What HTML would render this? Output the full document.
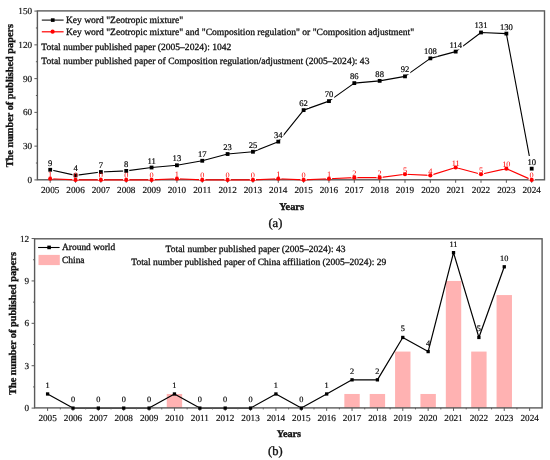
<!DOCTYPE html>
<html><head><meta charset="utf-8"><title>Figure</title>
<style>html,body{margin:0;padding:0;background:#fff;}body{width:550px;height:460px;overflow:hidden;}svg{display:block;}text{stroke:#111;stroke-width:.3px}text[fill="#ff0000"]{stroke:none}text.d{stroke-width:.2px}text.h{stroke-width:.35px}text.t{stroke-width:.18px}</style>
</head><body>
<svg width="550" height="460" viewBox="0 0 550 460" font-family="'Liberation Serif', 'Times New Roman', serif" fill="#111" text-rendering="geometricPrecision">
<rect width="550" height="460" fill="#fff"/>
<rect x="37.4" y="10.9" width="507.1" height="168.9" fill="none" stroke="#5a5a5a" stroke-width="1.4"/>
<path d="M50.2 179.8V182.8M75.54 179.8V182.8M100.88 179.8V182.8M126.23 179.8V182.8M151.57 179.8V182.8M176.91 179.8V182.8M202.25 179.8V182.8M227.59 179.8V182.8M252.94 179.8V182.8M278.28 179.8V182.8M303.62 179.8V182.8M328.96 179.8V182.8M354.3 179.8V182.8M379.65 179.8V182.8M404.99 179.8V182.8M430.33 179.8V182.8M455.67 179.8V182.8M481.01 179.8V182.8M506.36 179.8V182.8M531.7 179.8V182.8M37.4 179.9H34.4M37.4 163.02H35.9M37.4 146.14H34.4M37.4 129.26H35.9M37.4 112.38H34.4M37.4 95.5H35.9M37.4 78.61H34.4M37.4 61.73H35.9M37.4 44.85H34.4M37.4 27.97H35.9M37.4 11.09H34.4" stroke="#5a5a5a" stroke-width="1" fill="none"/>
<path d="M50.2 178.77 L75.54 179.9 L100.88 179.9 L126.23 179.9 L151.57 179.9 L176.91 178.77 L202.25 179.9 L227.59 179.9 L252.94 179.9 L278.28 178.77 L303.62 179.9 L328.96 178.77 L354.3 177.65 L379.65 177.65 L404.99 174.27 L430.33 175.4 L455.67 167.52 L481.01 174.27 L506.36 168.65 L531.7 179.9" stroke="#ff0000" stroke-width="1.2" fill="none" stroke-linejoin="round"/>
<path d="M50.2 169.77 L75.54 175.4 L100.88 172.02 L126.23 170.9 L151.57 167.52 L176.91 165.27 L202.25 160.77 L227.59 154.02 L252.94 151.77 L278.28 141.64 L303.62 110.13 L328.96 101.12 L354.3 83.12 L379.65 80.86 L404.99 76.36 L430.33 58.36 L455.67 51.6 L481.01 32.47 L506.36 33.6 L529.48 156.8" stroke="#000" stroke-width="1.1" fill="none" stroke-linejoin="round"/>
<rect x="47.12" y="168.79" width="6.15" height="10.21" fill="#fff"/>
<rect x="72.47" y="169.91" width="6.15" height="10.21" fill="#fff"/>
<rect x="97.81" y="169.91" width="6.15" height="10.21" fill="#fff"/>
<rect x="123.15" y="169.91" width="6.15" height="10.21" fill="#fff"/>
<rect x="148.49" y="169.91" width="6.15" height="10.21" fill="#fff"/>
<rect x="173.84" y="168.79" width="6.15" height="10.21" fill="#fff"/>
<rect x="199.18" y="169.91" width="6.15" height="10.21" fill="#fff"/>
<rect x="224.52" y="169.91" width="6.15" height="10.21" fill="#fff"/>
<rect x="249.86" y="169.91" width="6.15" height="10.21" fill="#fff"/>
<rect x="275.2" y="168.79" width="6.15" height="10.21" fill="#fff"/>
<rect x="300.55" y="169.91" width="6.15" height="10.21" fill="#fff"/>
<rect x="325.89" y="168.79" width="6.15" height="10.21" fill="#fff"/>
<rect x="351.23" y="167.66" width="6.15" height="10.21" fill="#fff"/>
<rect x="376.57" y="167.66" width="6.15" height="10.21" fill="#fff"/>
<rect x="401.91" y="164.29" width="6.15" height="10.21" fill="#fff"/>
<rect x="427.25" y="165.41" width="6.15" height="10.21" fill="#fff"/>
<rect x="450.52" y="157.53" width="10.3" height="10.21" fill="#fff"/>
<rect x="477.94" y="164.29" width="6.15" height="10.21" fill="#fff"/>
<rect x="501.21" y="158.66" width="10.3" height="10.21" fill="#fff"/>
<rect x="528.62" y="169.91" width="6.15" height="10.21" fill="#fff"/>
<rect x="47.05" y="157.12" width="6.3" height="10.55" fill="#fff"/>
<rect x="72.39" y="162.74" width="6.3" height="10.55" fill="#fff"/>
<rect x="97.73" y="159.37" width="6.3" height="10.55" fill="#fff"/>
<rect x="123.08" y="158.24" width="6.3" height="10.55" fill="#fff"/>
<rect x="146.27" y="154.87" width="10.6" height="10.55" fill="#fff"/>
<rect x="171.61" y="152.62" width="10.6" height="10.55" fill="#fff"/>
<rect x="196.95" y="148.11" width="10.6" height="10.55" fill="#fff"/>
<rect x="222.29" y="141.36" width="10.6" height="10.55" fill="#fff"/>
<rect x="247.64" y="139.11" width="10.6" height="10.55" fill="#fff"/>
<rect x="272.98" y="128.98" width="10.6" height="10.55" fill="#fff"/>
<rect x="298.32" y="97.47" width="10.6" height="10.55" fill="#fff"/>
<rect x="323.66" y="88.47" width="10.6" height="10.55" fill="#fff"/>
<rect x="349" y="70.46" width="10.6" height="10.55" fill="#fff"/>
<rect x="374.35" y="68.21" width="10.6" height="10.55" fill="#fff"/>
<rect x="399.69" y="63.71" width="10.6" height="10.55" fill="#fff"/>
<rect x="422.88" y="45.7" width="14.9" height="10.55" fill="#fff"/>
<rect x="448.22" y="38.95" width="14.9" height="10.55" fill="#fff"/>
<rect x="473.56" y="19.82" width="14.9" height="10.55" fill="#fff"/>
<rect x="498.91" y="20.94" width="14.9" height="10.55" fill="#fff"/>
<rect x="526.4" y="155.99" width="10.6" height="10.55" fill="#fff"/>
<circle cx="50.2" cy="178.77" r="2.1" fill="#ff0000"/>
<circle cx="75.54" cy="179.9" r="2.1" fill="#ff0000"/>
<circle cx="100.88" cy="179.9" r="2.1" fill="#ff0000"/>
<circle cx="126.23" cy="179.9" r="2.1" fill="#ff0000"/>
<circle cx="151.57" cy="179.9" r="2.1" fill="#ff0000"/>
<circle cx="176.91" cy="178.77" r="2.1" fill="#ff0000"/>
<circle cx="202.25" cy="179.9" r="2.1" fill="#ff0000"/>
<circle cx="227.59" cy="179.9" r="2.1" fill="#ff0000"/>
<circle cx="252.94" cy="179.9" r="2.1" fill="#ff0000"/>
<circle cx="278.28" cy="178.77" r="2.1" fill="#ff0000"/>
<circle cx="303.62" cy="179.9" r="2.1" fill="#ff0000"/>
<circle cx="328.96" cy="178.77" r="2.1" fill="#ff0000"/>
<circle cx="354.3" cy="177.65" r="2.1" fill="#ff0000"/>
<circle cx="379.65" cy="177.65" r="2.1" fill="#ff0000"/>
<circle cx="404.99" cy="174.27" r="2.1" fill="#ff0000"/>
<circle cx="430.33" cy="175.4" r="2.1" fill="#ff0000"/>
<circle cx="455.67" cy="167.52" r="2.1" fill="#ff0000"/>
<circle cx="481.01" cy="174.27" r="2.1" fill="#ff0000"/>
<circle cx="506.36" cy="168.65" r="2.1" fill="#ff0000"/>
<circle cx="531.7" cy="179.9" r="2.1" fill="#ff0000"/>
<rect x="48.3" y="167.87" width="3.8" height="3.8" fill="#000"/>
<rect x="73.64" y="173.5" width="3.8" height="3.8" fill="#000"/>
<rect x="98.98" y="170.12" width="3.8" height="3.8" fill="#000"/>
<rect x="124.33" y="169" width="3.8" height="3.8" fill="#000"/>
<rect x="149.67" y="165.62" width="3.8" height="3.8" fill="#000"/>
<rect x="175.01" y="163.37" width="3.8" height="3.8" fill="#000"/>
<rect x="200.35" y="158.87" width="3.8" height="3.8" fill="#000"/>
<rect x="225.69" y="152.12" width="3.8" height="3.8" fill="#000"/>
<rect x="251.04" y="149.87" width="3.8" height="3.8" fill="#000"/>
<rect x="276.38" y="139.74" width="3.8" height="3.8" fill="#000"/>
<rect x="301.72" y="108.23" width="3.8" height="3.8" fill="#000"/>
<rect x="327.06" y="99.22" width="3.8" height="3.8" fill="#000"/>
<rect x="352.4" y="81.22" width="3.8" height="3.8" fill="#000"/>
<rect x="377.75" y="78.96" width="3.8" height="3.8" fill="#000"/>
<rect x="403.09" y="74.46" width="3.8" height="3.8" fill="#000"/>
<rect x="428.43" y="56.46" width="3.8" height="3.8" fill="#000"/>
<rect x="453.77" y="49.7" width="3.8" height="3.8" fill="#000"/>
<rect x="479.11" y="30.57" width="3.8" height="3.8" fill="#000"/>
<rect x="504.46" y="31.7" width="3.8" height="3.8" fill="#000"/>
<rect x="529.8" y="166.75" width="3.8" height="3.8" fill="#000"/>
<text class="t" x="50.2" y="192.5" text-anchor="middle" font-size="9.2">2005</text>
<text class="t" x="75.54" y="192.5" text-anchor="middle" font-size="9.2">2006</text>
<text class="t" x="100.88" y="192.5" text-anchor="middle" font-size="9.2">2007</text>
<text class="t" x="126.23" y="192.5" text-anchor="middle" font-size="9.2">2008</text>
<text class="t" x="151.57" y="192.5" text-anchor="middle" font-size="9.2">2009</text>
<text class="t" x="176.91" y="192.5" text-anchor="middle" font-size="9.2">2010</text>
<text class="t" x="202.25" y="192.5" text-anchor="middle" font-size="9.2">2011</text>
<text class="t" x="227.59" y="192.5" text-anchor="middle" font-size="9.2">2012</text>
<text class="t" x="252.94" y="192.5" text-anchor="middle" font-size="9.2">2013</text>
<text class="t" x="278.28" y="192.5" text-anchor="middle" font-size="9.2">2014</text>
<text class="t" x="303.62" y="192.5" text-anchor="middle" font-size="9.2">2015</text>
<text class="t" x="328.96" y="192.5" text-anchor="middle" font-size="9.2">2016</text>
<text class="t" x="354.3" y="192.5" text-anchor="middle" font-size="9.2">2017</text>
<text class="t" x="379.65" y="192.5" text-anchor="middle" font-size="9.2">2018</text>
<text class="t" x="404.99" y="192.5" text-anchor="middle" font-size="9.2">2019</text>
<text class="t" x="430.33" y="192.5" text-anchor="middle" font-size="9.2">2020</text>
<text class="t" x="455.67" y="192.5" text-anchor="middle" font-size="9.2">2021</text>
<text class="t" x="481.01" y="192.5" text-anchor="middle" font-size="9.2">2022</text>
<text class="t" x="506.36" y="192.5" text-anchor="middle" font-size="9.2">2023</text>
<text class="t" x="531.7" y="192.5" text-anchor="middle" font-size="9.2">2024</text>
<text class="t" x="32.1" y="183" text-anchor="end" font-size="9.2">0</text>
<text class="t" x="32.1" y="149.24" text-anchor="end" font-size="9.2">30</text>
<text class="t" x="32.1" y="115.48" text-anchor="end" font-size="9.2">60</text>
<text class="t" x="32.1" y="81.71" text-anchor="end" font-size="9.2">90</text>
<text class="t" x="32.1" y="47.95" text-anchor="end" font-size="9.2">120</text>
<text class="t" x="32.1" y="14.19" text-anchor="end" font-size="9.2">150</text>
<text x="291.6" y="209.6" text-anchor="middle" font-size="10.4" font-weight="bold" class="h">Years</text>
<text transform="translate(13 95.6) rotate(-90)" text-anchor="middle" font-size="10.3" font-weight="bold" class="h">The number of published papers</text>
<text x="275.4" y="226.5" text-anchor="middle" font-size="12.5" class="h">(a)</text>
<text class="d" x="50.2" y="177.17" text-anchor="middle" font-size="8.3" fill="#ff0000">1</text>
<text class="d" x="75.54" y="178.3" text-anchor="middle" font-size="8.3" fill="#ff0000">0</text>
<text class="d" x="100.88" y="178.3" text-anchor="middle" font-size="8.3" fill="#ff0000">0</text>
<text class="d" x="126.23" y="178.3" text-anchor="middle" font-size="8.3" fill="#ff0000">0</text>
<text class="d" x="151.57" y="178.3" text-anchor="middle" font-size="8.3" fill="#ff0000">0</text>
<text class="d" x="176.91" y="177.17" text-anchor="middle" font-size="8.3" fill="#ff0000">1</text>
<text class="d" x="202.25" y="178.3" text-anchor="middle" font-size="8.3" fill="#ff0000">0</text>
<text class="d" x="227.59" y="178.3" text-anchor="middle" font-size="8.3" fill="#ff0000">0</text>
<text class="d" x="252.94" y="178.3" text-anchor="middle" font-size="8.3" fill="#ff0000">0</text>
<text class="d" x="278.28" y="177.17" text-anchor="middle" font-size="8.3" fill="#ff0000">1</text>
<text class="d" x="303.62" y="178.3" text-anchor="middle" font-size="8.3" fill="#ff0000">0</text>
<text class="d" x="328.96" y="177.17" text-anchor="middle" font-size="8.3" fill="#ff0000">1</text>
<text class="d" x="354.3" y="176.05" text-anchor="middle" font-size="8.3" fill="#ff0000">2</text>
<text class="d" x="379.65" y="176.05" text-anchor="middle" font-size="8.3" fill="#ff0000">2</text>
<text class="d" x="404.99" y="172.67" text-anchor="middle" font-size="8.3" fill="#ff0000">5</text>
<text class="d" x="430.33" y="173.8" text-anchor="middle" font-size="8.3" fill="#ff0000">4</text>
<text class="d" x="455.67" y="165.92" text-anchor="middle" font-size="8.3" fill="#ff0000">11</text>
<text class="d" x="481.01" y="172.67" text-anchor="middle" font-size="8.3" fill="#ff0000">5</text>
<text class="d" x="506.36" y="167.05" text-anchor="middle" font-size="8.3" fill="#ff0000">10</text>
<text class="d" x="531.7" y="178.3" text-anchor="middle" font-size="8.3" fill="#ff0000">0</text>
<text class="d" x="50.2" y="165.77" text-anchor="middle" font-size="8.6" fill="#000">9</text>
<text class="d" x="75.54" y="171.4" text-anchor="middle" font-size="8.6" fill="#000">4</text>
<text class="d" x="100.88" y="168.02" text-anchor="middle" font-size="8.6" fill="#000">7</text>
<text class="d" x="126.23" y="166.9" text-anchor="middle" font-size="8.6" fill="#000">8</text>
<text class="d" x="151.57" y="163.52" text-anchor="middle" font-size="8.6" fill="#000">11</text>
<text class="d" x="176.91" y="161.27" text-anchor="middle" font-size="8.6" fill="#000">13</text>
<text class="d" x="202.25" y="156.77" text-anchor="middle" font-size="8.6" fill="#000">17</text>
<text class="d" x="227.59" y="150.02" text-anchor="middle" font-size="8.6" fill="#000">23</text>
<text class="d" x="252.94" y="147.77" text-anchor="middle" font-size="8.6" fill="#000">25</text>
<text class="d" x="278.28" y="137.64" text-anchor="middle" font-size="8.6" fill="#000">34</text>
<text class="d" x="303.62" y="106.13" text-anchor="middle" font-size="8.6" fill="#000">62</text>
<text class="d" x="328.96" y="97.12" text-anchor="middle" font-size="8.6" fill="#000">70</text>
<text class="d" x="354.3" y="79.12" text-anchor="middle" font-size="8.6" fill="#000">86</text>
<text class="d" x="379.65" y="76.86" text-anchor="middle" font-size="8.6" fill="#000">88</text>
<text class="d" x="404.99" y="72.36" text-anchor="middle" font-size="8.6" fill="#000">92</text>
<text class="d" x="430.33" y="54.36" text-anchor="middle" font-size="8.6" fill="#000">108</text>
<text class="d" x="455.67" y="47.6" text-anchor="middle" font-size="8.6" fill="#000">114</text>
<text class="d" x="481.01" y="28.47" text-anchor="middle" font-size="8.6" fill="#000">131</text>
<text class="d" x="506.36" y="29.6" text-anchor="middle" font-size="8.6" fill="#000">130</text>
<text class="d" x="531.7" y="164.65" text-anchor="middle" font-size="8.6" fill="#000">10</text>
<path d="M41.8 20.1H63.6" stroke="#111" stroke-width="1.1"/><rect x="50.9" y="18.3" width="3.7" height="3.6" fill="#000"/>
<path d="M41.8 31.8H63.6" stroke="#ff0000" stroke-width="1.2"/><circle cx="52.6" cy="31.7" r="2.1" fill="#ff0000"/>
<text x="65.9" y="23.1" font-size="9.55">Key word "Zeotropic mixture"</text>
<text x="65.9" y="34.9" font-size="9.55">Key word "Zeotropic mixture" and "Composition regulation" or "Composition adjustment"</text>
<text x="41.3" y="50" font-size="9.55">Total number published paper (2005–2024): 1042</text>
<text x="41.3" y="63.5" font-size="9.55">Total number published paper of Composition regulation/adjustment (2005–2024): 43</text>
<rect x="166.75" y="393.97" width="15.4" height="14.13" fill="#ffb2b2"/>
<rect x="344.34" y="393.97" width="15.4" height="14.13" fill="#ffb2b2"/>
<rect x="369.71" y="393.97" width="15.4" height="14.13" fill="#ffb2b2"/>
<rect x="395.08" y="351.58" width="15.4" height="56.52" fill="#ffb2b2"/>
<rect x="420.45" y="393.97" width="15.4" height="14.13" fill="#ffb2b2"/>
<rect x="445.82" y="280.93" width="15.4" height="127.17" fill="#ffb2b2"/>
<rect x="471.19" y="351.58" width="15.4" height="56.52" fill="#ffb2b2"/>
<rect x="496.56" y="295.06" width="15.4" height="113.04" fill="#ffb2b2"/>
<path d="M47.6 393.97 L72.97 408.1 L98.34 408.1 L123.71 408.1 L149.08 408.1 L174.45 393.97 L199.82 408.1 L225.19 408.1 L250.56 408.1 L275.93 393.97 L301.3 408.1 L326.67 393.97 L352.04 379.84 L377.41 379.84 L402.78 337.45 L428.15 351.58 L453.52 252.67 L478.89 337.45 L504.26 266.8" stroke="#000" stroke-width="1.2" fill="none" stroke-linejoin="round"/>
<rect x="34.6" y="238.8" width="507.5" height="169.1" fill="none" stroke="#5a5a5a" stroke-width="1.4"/>
<path d="M47.6 407.9V410.9M60.29 407.9V409.4M72.97 407.9V410.9M85.66 407.9V409.4M98.34 407.9V410.9M111.03 407.9V409.4M123.71 407.9V410.9M136.4 407.9V409.4M149.08 407.9V410.9M161.77 407.9V409.4M174.45 407.9V410.9M187.14 407.9V409.4M199.82 407.9V410.9M212.5 407.9V409.4M225.19 407.9V410.9M237.88 407.9V409.4M250.56 407.9V410.9M263.25 407.9V409.4M275.93 407.9V410.9M288.62 407.9V409.4M301.3 407.9V410.9M313.99 407.9V409.4M326.67 407.9V410.9M339.36 407.9V409.4M352.04 407.9V410.9M364.73 407.9V409.4M377.41 407.9V410.9M390.1 407.9V409.4M402.78 407.9V410.9M415.47 407.9V409.4M428.15 407.9V410.9M440.84 407.9V409.4M453.52 407.9V410.9M466.21 407.9V409.4M478.89 407.9V410.9M491.58 407.9V409.4M504.26 407.9V410.9M516.95 407.9V409.4M529.63 407.9V410.9M34.6 408.1H31.6M34.6 386.91H33.1M34.6 365.71H31.6M34.6 344.52H33.1M34.6 323.32H31.6M34.6 302.12H33.1M34.6 280.93H31.6M34.6 259.74H33.1M34.6 238.54H31.6" stroke="#5a5a5a" stroke-width="1" fill="none"/>
<rect x="45.95" y="392.32" width="3.3" height="3.3" fill="#000"/>
<rect x="71.32" y="406.45" width="3.3" height="3.3" fill="#000"/>
<rect x="96.69" y="406.45" width="3.3" height="3.3" fill="#000"/>
<rect x="122.06" y="406.45" width="3.3" height="3.3" fill="#000"/>
<rect x="147.43" y="406.45" width="3.3" height="3.3" fill="#000"/>
<rect x="172.8" y="392.32" width="3.3" height="3.3" fill="#000"/>
<rect x="198.17" y="406.45" width="3.3" height="3.3" fill="#000"/>
<rect x="223.54" y="406.45" width="3.3" height="3.3" fill="#000"/>
<rect x="248.91" y="406.45" width="3.3" height="3.3" fill="#000"/>
<rect x="274.28" y="392.32" width="3.3" height="3.3" fill="#000"/>
<rect x="299.65" y="406.45" width="3.3" height="3.3" fill="#000"/>
<rect x="325.02" y="392.32" width="3.3" height="3.3" fill="#000"/>
<rect x="350.39" y="378.19" width="3.3" height="3.3" fill="#000"/>
<rect x="375.76" y="378.19" width="3.3" height="3.3" fill="#000"/>
<rect x="401.13" y="335.8" width="3.3" height="3.3" fill="#000"/>
<rect x="426.5" y="349.93" width="3.3" height="3.3" fill="#000"/>
<rect x="451.87" y="251.02" width="3.3" height="3.3" fill="#000"/>
<rect x="477.24" y="335.8" width="3.3" height="3.3" fill="#000"/>
<rect x="502.61" y="265.15" width="3.3" height="3.3" fill="#000"/>
<text class="t" x="47.6" y="420.8" text-anchor="middle" font-size="9.2">2005</text>
<text class="t" x="72.97" y="420.8" text-anchor="middle" font-size="9.2">2006</text>
<text class="t" x="98.34" y="420.8" text-anchor="middle" font-size="9.2">2007</text>
<text class="t" x="123.71" y="420.8" text-anchor="middle" font-size="9.2">2008</text>
<text class="t" x="149.08" y="420.8" text-anchor="middle" font-size="9.2">2009</text>
<text class="t" x="174.45" y="420.8" text-anchor="middle" font-size="9.2">2010</text>
<text class="t" x="199.82" y="420.8" text-anchor="middle" font-size="9.2">2011</text>
<text class="t" x="225.19" y="420.8" text-anchor="middle" font-size="9.2">2012</text>
<text class="t" x="250.56" y="420.8" text-anchor="middle" font-size="9.2">2013</text>
<text class="t" x="275.93" y="420.8" text-anchor="middle" font-size="9.2">2014</text>
<text class="t" x="301.3" y="420.8" text-anchor="middle" font-size="9.2">2015</text>
<text class="t" x="326.67" y="420.8" text-anchor="middle" font-size="9.2">2016</text>
<text class="t" x="352.04" y="420.8" text-anchor="middle" font-size="9.2">2017</text>
<text class="t" x="377.41" y="420.8" text-anchor="middle" font-size="9.2">2018</text>
<text class="t" x="402.78" y="420.8" text-anchor="middle" font-size="9.2">2019</text>
<text class="t" x="428.15" y="420.8" text-anchor="middle" font-size="9.2">2020</text>
<text class="t" x="453.52" y="420.8" text-anchor="middle" font-size="9.2">2021</text>
<text class="t" x="478.89" y="420.8" text-anchor="middle" font-size="9.2">2022</text>
<text class="t" x="504.26" y="420.8" text-anchor="middle" font-size="9.2">2023</text>
<text class="t" x="529.63" y="420.8" text-anchor="middle" font-size="9.2">2024</text>
<text class="t" x="29.1" y="411.2" text-anchor="end" font-size="9.2">0</text>
<text class="t" x="29.1" y="368.81" text-anchor="end" font-size="9.2">3</text>
<text class="t" x="29.1" y="326.42" text-anchor="end" font-size="9.2">6</text>
<text class="t" x="29.1" y="284.03" text-anchor="end" font-size="9.2">9</text>
<text class="t" x="29.1" y="241.64" text-anchor="end" font-size="9.2">12</text>
<text x="288.9" y="436.7" text-anchor="middle" font-size="10.2" font-weight="bold" class="h">Years</text>
<text transform="translate(16.3 323.5) rotate(-90)" text-anchor="middle" font-size="10.26" font-weight="bold" class="h">The number of published papers</text>
<text x="275.3" y="455.2" text-anchor="middle" font-size="12.5" class="h">(b)</text>
<text class="d" x="47.6" y="387.97" text-anchor="middle" font-size="8.3" fill="#000">1</text>
<text class="d" x="72.97" y="402.1" text-anchor="middle" font-size="8.3" fill="#000">0</text>
<text class="d" x="98.34" y="402.1" text-anchor="middle" font-size="8.3" fill="#000">0</text>
<text class="d" x="123.71" y="402.1" text-anchor="middle" font-size="8.3" fill="#000">0</text>
<text class="d" x="149.08" y="402.1" text-anchor="middle" font-size="8.3" fill="#000">0</text>
<text class="d" x="174.45" y="387.97" text-anchor="middle" font-size="8.3" fill="#000">1</text>
<text class="d" x="199.82" y="402.1" text-anchor="middle" font-size="8.3" fill="#000">0</text>
<text class="d" x="225.19" y="402.1" text-anchor="middle" font-size="8.3" fill="#000">0</text>
<text class="d" x="250.56" y="402.1" text-anchor="middle" font-size="8.3" fill="#000">0</text>
<text class="d" x="275.93" y="387.97" text-anchor="middle" font-size="8.3" fill="#000">1</text>
<text class="d" x="301.3" y="402.1" text-anchor="middle" font-size="8.3" fill="#000">0</text>
<text class="d" x="326.67" y="387.97" text-anchor="middle" font-size="8.3" fill="#000">1</text>
<text class="d" x="352.04" y="373.84" text-anchor="middle" font-size="8.3" fill="#000">2</text>
<text class="d" x="377.41" y="373.84" text-anchor="middle" font-size="8.3" fill="#000">2</text>
<text class="d" x="402.78" y="331.45" text-anchor="middle" font-size="8.3" fill="#000">5</text>
<text class="d" x="428.15" y="345.58" text-anchor="middle" font-size="8.3" fill="#000">4</text>
<text class="d" x="453.52" y="246.67" text-anchor="middle" font-size="8.3" fill="#000">11</text>
<text class="d" x="478.89" y="331.45" text-anchor="middle" font-size="8.3" fill="#000">5</text>
<text class="d" x="504.26" y="260.8" text-anchor="middle" font-size="8.3" fill="#000">10</text>
<path d="M38.1 247.5H59.6" stroke="#000" stroke-width="1.1"/><rect x="47.3" y="245.6" width="3.6" height="3.6" fill="#000"/>
<rect x="38.5" y="254.9" width="21.3" height="10.2" fill="#ffb2b2"/>
<text x="62" y="250" font-size="9.45">Around world</text>
<text x="62" y="263.1" font-size="9.45">China</text>
<text x="165.6" y="252" font-size="9.52">Total number published paper (2005–2024): 43</text>
<text x="131.3" y="265.2" font-size="9.52">Total number published paper of China affiliation (2005–2024): 29</text>
</svg>
</body></html>
